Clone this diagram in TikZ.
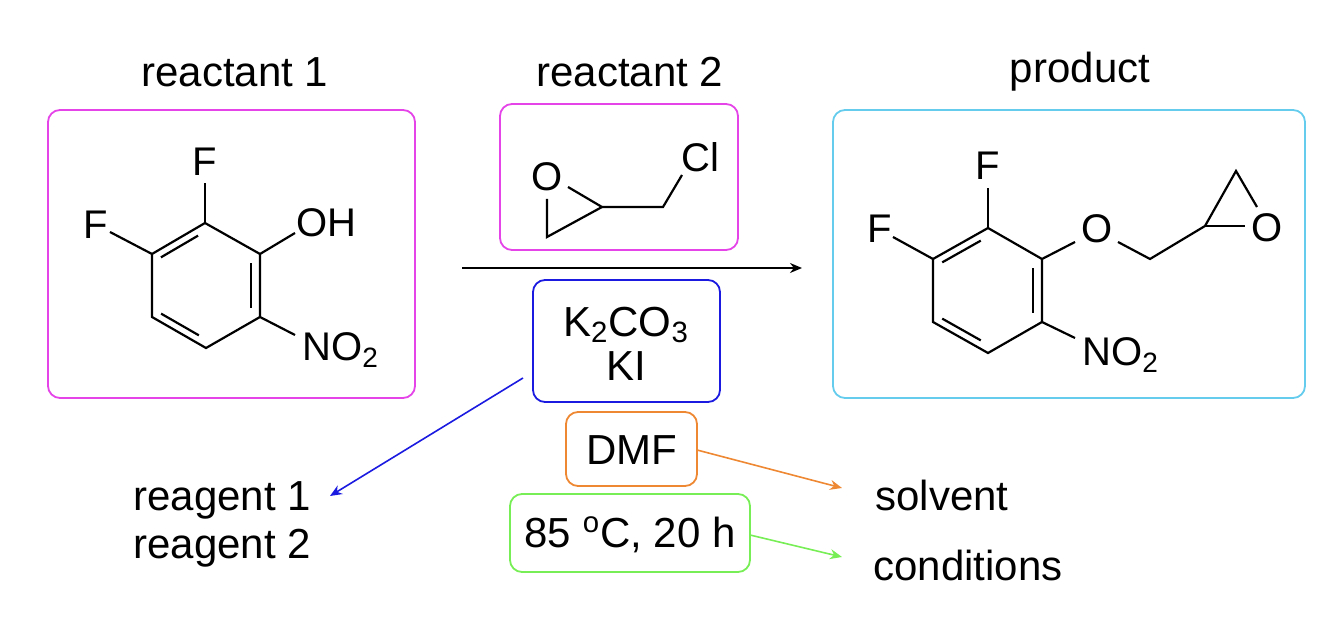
\documentclass[tikz,border=0pt]{standalone}
\usepackage{fontspec}
\setmainfont{Liberation Sans}
\usetikzlibrary{arrows.meta,calc}
\begin{document}
\begin{tikzpicture}[x=0.5pt,y=-0.5pt,
 lab/.style={font=\fontsize{21}{24}\selectfont,inner sep=0pt},
 atom/.style={font=\fontsize{20}{22}\selectfont,inner sep=0pt},
 box/.style={draw,rounded corners=6pt,line width=0.9pt},
 bond/.style={line width=1.1pt},
 arr/.style={line width=0.8pt,-{Stealth[length=6pt,width=5pt]}}]
\definecolor{mag}{HTML}{E444E8}
\definecolor{cya}{HTML}{66CCEE}
\definecolor{blu}{HTML}{1A1AE0}
\definecolor{ora}{HTML}{EE8833}
\definecolor{gre}{HTML}{77EE55}
\useasboundingbox (0,0) rectangle (1322,624);
% boxes
\node[box,draw=mag,minimum width=183.5pt,minimum height=144pt] (b1) at (231.5,254) {};
\node[box,draw=mag,minimum width=119pt,minimum height=73pt] (b2) at (619,177) {};
\node[box,draw=cya,minimum width=236pt,minimum height=144pt] (b3) at (1069,254) {};
\node[box,draw=blu,minimum width=93.5pt,minimum height=61pt] (b4) at (626.5,341) {};
\node[box,draw=ora,minimum width=65.5pt,minimum height=37pt] (b5) at (631.5,449) {};
\node[box,draw=gre,minimum width=120pt,minimum height=39pt] (b6) at (630,533) {};
% titles
\node[lab] (t1) at (235,72) {reactant 1};
\node[lab] (t2) at (630,72) {reactant 2};
\node[lab] (t3) at (1080,72) {product};
\node[lab] (k) at (626,325) {K\textsubscript{2}CO\textsubscript{3}};
\node[lab] (ki) at (626,366) {KI};
\node[lab] (dmf) at (632,450) {DMF};
\node[lab] (cond) at (630,535) {85 \textsuperscript{o}C, 20 h};
\node[lab,anchor=west] (r1) at (133,500) {reagent 1};
\node[lab,anchor=west] (r2) at (133,548) {reagent 2};
\node[lab,anchor=west] (sol) at (875,495) {solvent};
\node[lab,anchor=west] (con) at (873,565) {conditions};
% main arrow
\coordinate (a0) at (462,268); \coordinate (a1) at (802,268);
\draw[arr,black] (a0) -- (a1);
\coordinate (p1) at (523,378); \coordinate (p2) at (330,496);
\draw[arr,blu] (p1) -- (p2);
\coordinate (o1) at (697,450); \coordinate (o2) at (842,488);
\draw[arr,ora] (o1) -- (o2);
\coordinate (g1) at (750,535); \coordinate (g2) at (842,557);
\draw[arr,gre] (g1) -- (g2);
% reactant 1
\coordinate (A2) at (205,223); \coordinate (A1) at (260,254);
\coordinate (A6) at (260,317); \coordinate (A5) at (206,348);
\coordinate (A4) at (152,317); \coordinate (A3) at (152,254);
\draw[bond] (A2)--(A1)--(A6)--(A5)--(A4)--(A3)--cycle;
\draw[bond] ($(A2)!0.15!(A3)+(1,8)$) -- ($(A3)!0.15!(A2)+(1,8)$);
\draw[bond] ($(A1)!0.15!(A6)+(-9,0)$) -- ($(A6)!0.15!(A1)+(-9,0)$);
\draw[bond] ($(A4)!0.15!(A5)+(1,-8)$) -- ($(A5)!0.15!(A4)+(1,-8)$);
\node[atom] (F1) at (205,162) {F};
\node[atom] (F2) at (96,225) {F};
\node[atom,anchor=west] (OH) at (296,223) {OH};
\node[atom,anchor=west] (N1) at (302,350) {NO\textsubscript{2}};
\coordinate (f1e) at (205,183); \coordinate (f2e) at (110,232);
\coordinate (ohe) at (295,233); \coordinate (n1e) at (295,335);
\draw[bond] (A2)--(f1e); \draw[bond] (A3)--(f2e);
\draw[bond] (A1)--(ohe); \draw[bond] (A6)--(n1e);
% reactant 2
\node[atom] (O2) at (547,177) {O};
\node[atom,anchor=west] (Cl) at (681,157) {Cl};
\coordinate (E1) at (602,207); \coordinate (E2) at (547,237);
\coordinate (E3) at (663,207);
\coordinate (eo1) at (568,187); \coordinate (eo2) at (547,199);
\coordinate (cle) at (682,175);
\draw[bond] (eo1)--(E1)--(E2)--(eo2);
\draw[bond] (E1)--(E3)--(cle);
% product
\coordinate (B2) at (988,228); \coordinate (B1) at (1042,259);
\coordinate (B6) at (1042,322); \coordinate (B5) at (988,353);
\coordinate (B4) at (933,322); \coordinate (B3) at (933,259);
\draw[bond] (B2)--(B1)--(B6)--(B5)--(B4)--(B3)--cycle;
\draw[bond] ($(B2)!0.15!(B3)+(1,8)$) -- ($(B3)!0.15!(B2)+(1,8)$);
\draw[bond] ($(B1)!0.15!(B6)+(-9,0)$) -- ($(B6)!0.15!(B1)+(-9,0)$);
\draw[bond] ($(B4)!0.15!(B5)+(1,-8)$) -- ($(B5)!0.15!(B4)+(1,-8)$);
\node[atom] (F3) at (988,166) {F};
\node[atom] (F4) at (880,229) {F};
\node[atom] (O3) at (1097,229) {O};
\node[atom] (O4) at (1267,228) {O};
\node[atom,anchor=west] (N2) at (1082,355) {NO\textsubscript{2}};
\coordinate (f3e) at (988,188); \coordinate (f4e) at (893,237);
\coordinate (o3a) at (1075,242); \coordinate (o3b) at (1118,242);
\coordinate (CH2) at (1150,259); \coordinate (CH) at (1205,226);
\coordinate (Ct) at (1236,171); \coordinate (o4a) at (1257,207);
\coordinate (o4b) at (1245,226); \coordinate (n2e) at (1075,338);
\draw[bond] (B2)--(f3e); \draw[bond] (B3)--(f4e);
\draw[bond] (B1)--(o3a); \draw[bond] (o3b)--(CH2)--(CH);
\draw[bond] (CH)--(Ct)--(o4a); \draw[bond] (CH)--(o4b);
\draw[bond] (B6)--(n2e);
\end{tikzpicture}
\end{document}
